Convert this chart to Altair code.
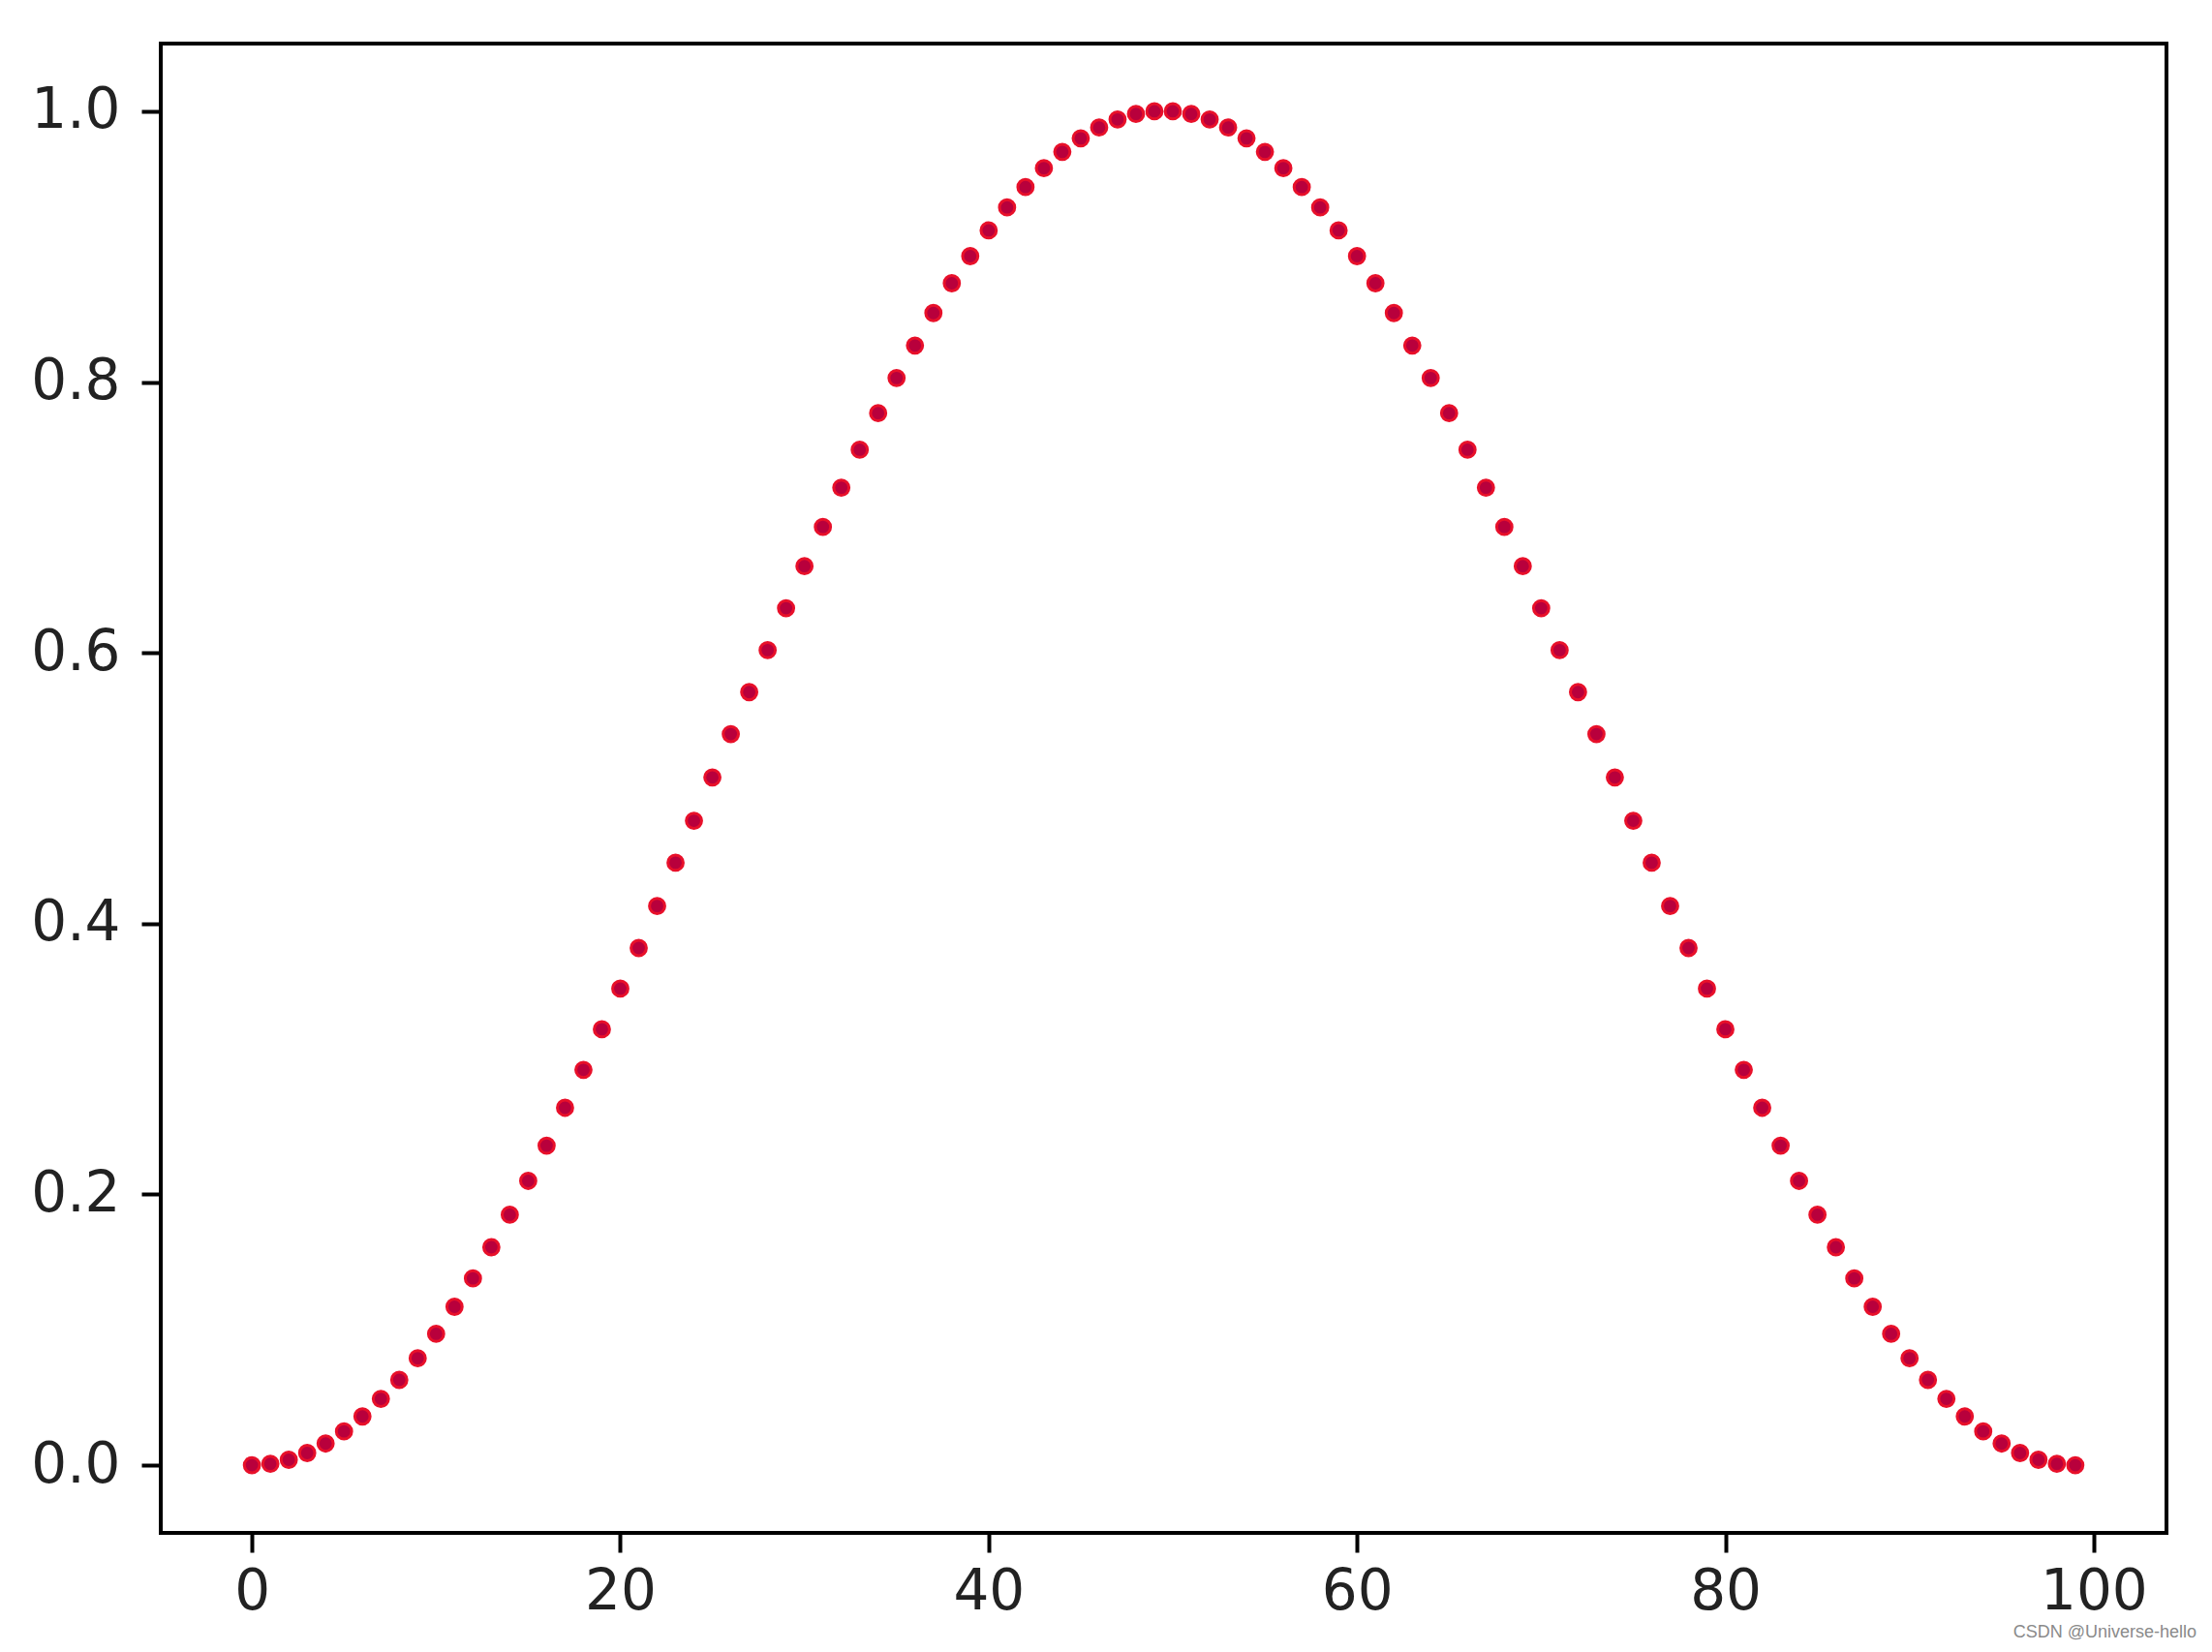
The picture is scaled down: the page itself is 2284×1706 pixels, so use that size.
import altair as alt
import pandas as pd

sample_index = list(range(100))
window_values = [
    0.000, 0.001, 0.004, 0.009, 0.016, 0.025, 0.036, 0.049, 0.063, 0.079,
    0.097, 0.117, 0.138, 0.161, 0.185, 0.210, 0.236, 0.264, 0.292, 0.322,
    0.352, 0.382, 0.413, 0.445, 0.476, 0.508, 0.540, 0.571, 0.602, 0.633,
    0.664, 0.693, 0.722, 0.750, 0.777, 0.803, 0.827, 0.851, 0.873, 0.893,
    0.912, 0.929, 0.944, 0.958, 0.970, 0.980, 0.988, 0.994, 0.998, 1.000,
    1.000, 0.998, 0.994, 0.988, 0.980, 0.970, 0.958, 0.944, 0.929, 0.912,
    0.893, 0.873, 0.851, 0.827, 0.803, 0.777, 0.750, 0.722, 0.693, 0.664,
    0.633, 0.602, 0.571, 0.540, 0.508, 0.476, 0.445, 0.413, 0.382, 0.352,
    0.322, 0.292, 0.264, 0.236, 0.210, 0.185, 0.161, 0.138, 0.117, 0.097,
    0.079, 0.063, 0.049, 0.036, 0.025, 0.016, 0.009, 0.004, 0.001, 0.000,
]
x_ticks = [0, 20, 40, 60, 80, 100]
y_ticks = [0.0, 0.2, 0.4, 0.6, 0.8, 1.0]
watermark = "CSDN @Universe-hello"

df = pd.DataFrame({"n": sample_index, "w": window_values})

FONT = "DejaVu Sans"
W, H = 2071, 1538

xscale = alt.Scale(domain=[-4.95, 103.95], nice=False, zero=False)
yscale = alt.Scale(domain=[-0.05, 1.05], nice=False, zero=False)

common_axis = dict(
    domain=False, grid=False, ticks=True, tickColor="#000000", tickWidth=4,
    tickSize=20, labelFont=FONT, labelFontSize=58, labelColor="#222222",
    title=None,
)

points = alt.Chart(df).mark_point(
    shape="circle", size=250, filled=True, opacity=1,
    fill="#b8003c", stroke="#e8102a", strokeWidth=3
).encode(
    x=alt.X("n:Q", scale=xscale,
            axis=alt.Axis(values=x_ticks, format="d", labelPadding=12, **common_axis)),
    y=alt.Y("w:Q", scale=yscale,
            axis=alt.Axis(values=y_ticks, format=".1f", labelPadding=22, **common_axis)),
)

wm = alt.Chart(pd.DataFrame({"t": [watermark]})).mark_text(
    font="Liberation Sans", fontSize=18, color="#8a8a8a", align="right",
    baseline="alphabetic"
).encode(text="t:N", x=alt.value(2102), y=alt.value(1646))

chart = alt.layer(points, wm).properties(
    width=W, height=H,
    autosize=alt.AutoSizeParams(type="none"),
    padding={"left": 158, "top": 37, "right": 35, "bottom": 114},
    background="#ffffff",
).configure_view(stroke="#000000", strokeWidth=4)

chart.save("out.html", embed_options={"renderer": "svg", "actions": False})
